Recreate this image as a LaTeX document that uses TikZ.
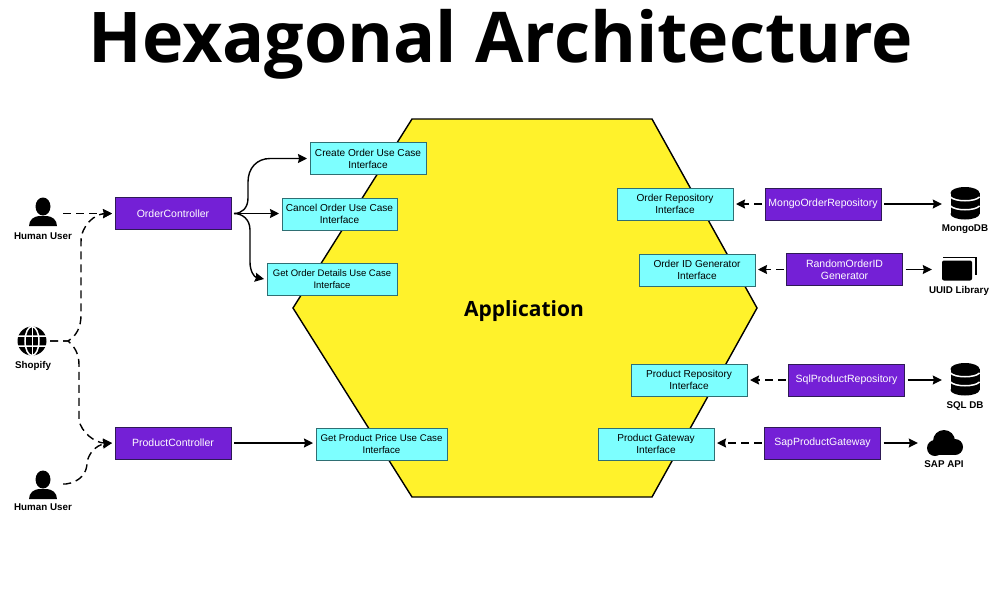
\documentclass[tikz,border=0pt]{standalone}
\usepackage{fontspec}
\setmainfont{Liberation Sans}
\newfontfamily\titlefont{Open Sans}
\usetikzlibrary{arrows.meta}

\definecolor{hexyellow}{HTML}{FFF22B}
\definecolor{portcyan}{HTML}{7DFFFF}
\definecolor{portedge}{HTML}{2F6F73}
\definecolor{adapterpurple}{HTML}{7420D6}
\definecolor{adapteredge}{HTML}{2E1A55}

\tikzset{
	human/.pic={
		\fill (0, -7) ellipse (7.5 and 9);
		\fill (-14, 12.5) .. controls (-14, 6) and (-9, 3) .. (-4, 2.5) -- (4, 2.5) .. controls (9, 3) and (14, 6) .. (14, 12.5) -- cycle;
	},
	globe/.pic={
		\fill (0, 0) circle (14.5);
		\draw[white, line width=1.5pt] (0, 0) ellipse (7 and 14.5) (-14.5, -5) -- (14.5, -5) (-14.5, 5) -- (14.5, 5);
		\draw[white, line width=0.9pt] (0, -14.5) -- (0, 14.5);
	},
	database/.pic={
		\fill (-14.5, -11) rectangle (14.5, 10);
		\fill (0, -11) ellipse (14.5 and 6);
		\fill (0, 10) ellipse (14.5 and 5.5);
		\draw[white, line width=1.5pt] (-14.5, -7) .. controls (-10, -2) and (10, -2) .. (14.5, -7);
		\draw[white, line width=1.5pt] (-14.5, 2) .. controls (-10, 7) and (10, 7) .. (14.5, 2);
	},
	library/.pic={
		\fill[rounded corners=2pt] (-19, -9) rectangle (11, 11);
		\draw[line width=1.4pt] (-18, -12) -- (15, -12) -- (15, 5);
	},
	cloud/.pic={
		\fill (-10, 5) circle (8);
		\fill (-1, -2) circle (11);
		\fill (10, 4) circle (8);
		\fill (-10, 4) rectangle (10, 12);
	},
}

\begin{document}
\begin{tikzpicture}[%
					x=1pt,
					y=-1pt,
					>={Stealth[length=9pt, width=9pt, inset=1pt]},
					link/.style={line width=1.4pt, ->},
					dashlink/.style={link, dash pattern=on 8pt off 5pt},
					port/.style={
						draw=portedge,
						line width=0.8pt,
						fill=portcyan,
						minimum width=116pt,
						minimum height=32pt,
						inner sep=0pt,
						outer sep=3pt,
						align=center,
						font=\fontsize{10.1}{12}\selectfont
					},
					adapter/.style={
						port,
						draw=adapteredge,
						fill=adapterpurple,
						text=white,
						font=\fontsize{10.5}{12}\selectfont
					},
					icon/.style={
						minimum width=40pt,
						minimum height=32pt,
						inner sep=0pt
					},
					caption/.style={inner sep=0pt, font=\fontsize{9.8}{12}\selectfont\bfseries}
				]
	\useasboundingbox (0, 0) rectangle (1000, 600);

	\node[anchor=base] (title) at (501, 62) {\titlefont\fontsize{70}{70}\selectfont\bfseries Hexagonal Architecture};

	\draw[fill=hexyellow, line width=1.4pt] (412, 119) -- (652, 119) -- (757, 308) -- (652, 497) -- (412, 497) -- (293, 308) -- cycle;
	\node (application) at (524, 311) {\titlefont\fontsize{21}{24}\selectfont\bfseries Application};

	\node[port] (createorder) at (368, 158.5) {Create Order Use Case \\ Interface};
	\node[port, minimum width=115pt] (cancelorder) at (339.5, 214) {Cancel Order Use Case \\ Interface};
	\node[port, minimum width=130pt, font=\fontsize{9.5}{12}\selectfont] (getorder) at (332, 279) {Get Order Details Use Case \\ Interface};
	\node[port, minimum width=131pt, font=\fontsize{9.7}{12}\selectfont] (getprice) at (381.5, 444) {Get Product Price Use Case \\ Interface};

	\node[port] (orderrepo) at (675, 204) {Order Repository \\ Interface};
	\node[port] (orderid) at (697, 270) {Order ID Generator \\ Interface};
	\node[port] (productrepo) at (689, 380) {Product Repository \\ Interface};
	\node[port] (productgateway) at (656, 444) {Product Gateway \\ Interface};

	\node[adapter] (ordercontroller) at (173, 213.5) {OrderController};
	\node[adapter] (productcontroller) at (173, 443) {ProductController};
	\node[adapter] (mongorepo) at (823, 204) {MongoOrderRepository};
	\node[adapter] (randomid) at (844.5, 269.5) {RandomOrderID \\ Generator};
	\node[adapter] (sqlrepo) at (846.5, 380) {SqlProductRepository};
	\node[adapter] (sapgateway) at (822.5, 443) {SapProductGateway};

	\node[icon] (humanone) at (43, 213.5) {};
	\pic at (humanone) {human};
	\node[caption] at (43, 236.5) {Human User};
	\node[icon] (humantwo) at (43, 484) {};
	\pic at ([yshift=-2.5pt]humantwo) {human};
	\node[caption] at (43, 507.5) {Human User};
	\node[icon, minimum width=36pt] (shopify) at (32, 341) {};
	\pic at (shopify) {globe};
	\node[caption] at (33, 366) {Shopify};

	\node[icon, minimum width=46pt] (mongodb) at (965, 204) {};
	\pic at (mongodb) {database};
	\node[caption] at (965, 229) {MongoDB};
	\node[icon, minimum width=58pt] (uuidlib) at (961, 269.5) {};
	\pic at (uuidlib) {library};
	\node[caption] at (959, 291) {UUID Library};
	\node[icon, minimum width=46pt] (sqldb) at (965, 380) {};
	\pic at (sqldb) {database};
	\node[caption] at (965, 406) {SQL DB};
	\node[icon, minimum width=54pt] (sapapi) at (945, 443) {};
	\pic at (sapapi) {cloud};
	\node[caption] at (944, 464) {SAP API};

	\draw[dashlink] (humanone.east) -- (ordercontroller.west);
	\draw[dashlink] (shopify.east) -- (68, 341) .. controls (76, 336) and (81, 328) .. (81, 315) -- (81, 242) .. controls (81, 225) and (95, 214) .. (ordercontroller.west);
	\draw[dashlink] (shopify.east) -- (68, 341) .. controls (75, 347) and (79, 354) .. (79, 365) -- (79, 420) .. controls (81, 432) and (95, 443) .. (productcontroller.west);
	\draw[dashlink] (humantwo.east) -- (66, 484) .. controls (80, 482) and (87, 473) .. (87, 463) .. controls (88, 454) and (96, 445) .. (productcontroller.west);

	\draw[link] (ordercontroller.east) .. controls (242, 213.5) and (248, 208) .. (248, 198) -- (248, 182) .. controls (248, 168) and (257, 158.5) .. (270, 158.5) -- (createorder.west);
	\draw[link] (ordercontroller.east) -- (ordercontroller.east -| cancelorder.west);
	\draw[link] (ordercontroller.east) .. controls (242, 213.5) and (250, 219) .. (250, 230) -- (250, 262) .. controls (250, 271) and (254, 277) .. (getorder.west);
	\draw[link] (productcontroller.east) -- (productcontroller.east -| getprice.west);

	\draw[dashlink] (mongorepo.west) -- (orderrepo.east);
	\draw[dashlink] (randomid.west) -- (randomid.west -| orderid.east);
	\draw[dashlink] (sqlrepo.west) -- (productrepo.east);
	\draw[dashlink] (sapgateway.west) -- (sapgateway.west -| productgateway.east);

	\draw[link] (mongorepo.east) -- (mongodb.west);
	\draw[link] (randomid.east) -- (uuidlib.west);
	\draw[link] (sqlrepo.east) -- (sqldb.west);
	\draw[link] (sapgateway.east) -- (sapapi.west);
\end{tikzpicture}
\end{document}
